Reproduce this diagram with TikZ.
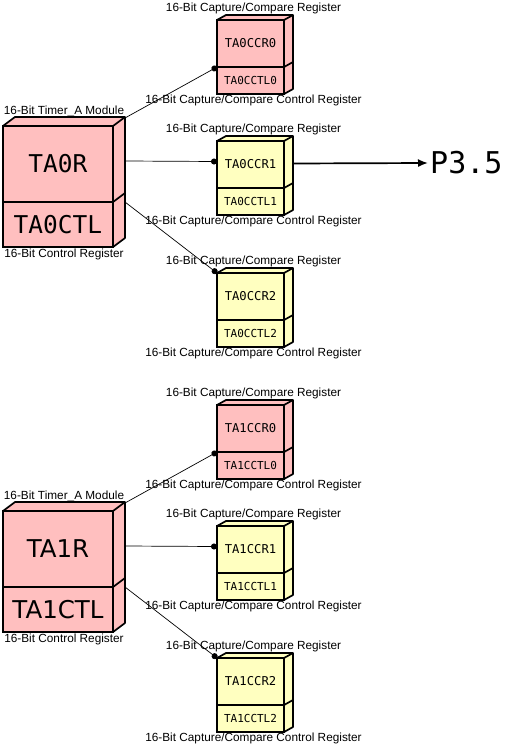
\documentclass[tikz,border=0pt]{standalone}
\usepackage{fontspec}
\setmainfont{Liberation Sans}
\newfontfamily\regmono{DejaVu Sans Mono}
\newfontfamily\regsans{DejaVu Sans}
\usetikzlibrary{positioning,calc,arrows.meta}
\definecolor{regpink}{RGB}{255,191,191}
\definecolor{regyellow}{RGB}{255,255,192}

% top and right faces of a register block (upper node, lower node, dx, dy, fill)
\newcommand{\regdepth}[5]{%
  \filldraw[fill=#5, line width=1.7pt, line join=round]
    (#1.north west) -- ($(#1.north west)+(#3,#4)$) -- ($(#1.north east)+(#3,#4)$)
    -- ($(#2.south east)+(#3,#4)$) -- (#2.south east) -- (#1.north east) -- cycle
    (#1.north east) -- ($(#1.north east)+(#3,#4)$)
    (#1.south east) -- ($(#1.south east)+(#3,#4)$);
}

\begin{document}
\begin{tikzpicture}[x=1pt, y=-1pt,
  reg/.style={draw, line width=1.7pt, inner sep=0pt, outer sep=0pt},
  bigreg/.style={reg, fill=regpink, minimum width=110pt},
  ccreg/.style={reg, minimum width=67pt, font=\regmono\fontsize{12.2}{12}\selectfont},
  cctlreg/.style={reg, minimum width=67pt, font=\regmono\fontsize{11}{11}\selectfont},
  caption/.style={inner sep=0pt, font=\fontsize{11.8}{12}\selectfont},
  wire/.style={line width=0.7pt, -{Circle[length=6pt]}}
]
\useasboundingbox (0,0) rectangle (527,749);

\foreach \t/\dy/\bigfont in {0/0/\regmono, 1/385/\regsans} {
  \begin{scope}[yshift=-\dy pt]
    % timer block
    \node[bigreg, minimum height=76pt, anchor=north west, font=\bigfont\fontsize{24.5}{24}\selectfont]
      (TA\t R) at (3,126) {TA\t R};
    \node[bigreg, minimum height=45pt, below=0pt of TA\t R, font=\bigfont\fontsize{24.5}{24}\selectfont]
      (TA\t CTL) {TA\t CTL};
    \regdepth{TA\t R}{TA\t CTL}{12}{-9}{regpink}
    \node[caption, above=9pt of TA\t R, xshift=6pt] (mod\t) {16-Bit Timer\_A Module};
    \node[caption, below=2pt of TA\t CTL, xshift=6pt] (ctl\t) {16-Bit Control Register};

    % capture/compare blocks
    \foreach \c/\top/\col in {0/20/regpink, 1/141/regyellow, 2/273/regyellow} {
      \node[ccreg, fill=\col, minimum height=47pt, anchor=north west]
        (TA\t CCR\c) at (217,\top) {TA\t CCR\c};
      \node[cctlreg, fill=\col, minimum height=27pt, below=0pt of TA\t CCR\c]
        (TA\t CCTL\c) {TA\t CCTL\c};
      \regdepth{TA\t CCR\c}{TA\t CCTL\c}{9}{-5}{\col}
      \node[caption, above=6pt of TA\t CCR\c, xshift=3pt] (cap\t\c) {16-Bit Capture/Compare Register};
      \node[caption, below=1pt of TA\t CCTL\c, xshift=3pt] (ccl\t\c) {16-Bit Capture/Compare Control Register};
    }

    \draw[wire] ($(TA\t R.north east)+(12,-8)$) -- (TA\t CCTL0.north west);
    \draw[wire] ($(TA\t R.east)+(12,-3)$) -- ($(TA\t CCR1.west)+(0,-3)$);
    \draw[wire] ($(TA\t CTL.north east)+(12,0)$) -- (TA\t CCR2.north west);
  \end{scope}
}

% output pin
\node[anchor=west, inner sep=2pt, font=\regmono\fontsize{30}{30}\selectfont] (P35) at (428,163) {P3.5};
\draw[line width=1.7pt, -{Latex[length=10pt,width=8pt]}] ($(TA0CCR1.east)+(9,-1)$) -- (P35.west);
\end{tikzpicture}
\end{document}
